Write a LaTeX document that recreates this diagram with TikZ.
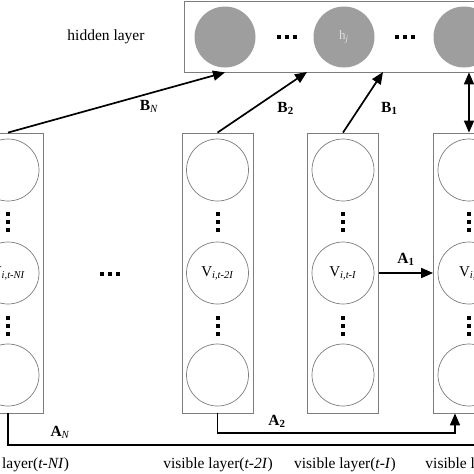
\documentclass[tikz,border=0pt]{standalone}
\usepackage{fontspec}
\setmainfont{Liberation Serif}
\usetikzlibrary{positioning,calc,arrows.meta}
\definecolor{boxgray}{RGB}{125,125,125}
\definecolor{unitgray}{RGB}{158,158,158}
\definecolor{hlight}{RGB}{225,225,225}

\tikzset{
  layerbox/.style={draw=boxgray, line width=0.8pt, minimum width=71pt, minimum height=280pt},
  unit/.style={circle, draw=boxgray, line width=0.7pt, minimum size=62pt, inner sep=0pt, font=\fontsize{15}{17}\selectfont},
  hunit/.style={circle, fill=unitgray, minimum size=61pt, inner sep=0pt, text=hlight, font=\fontsize{13}{15}\selectfont},
  arr/.style={-{Triangle[length=12pt,width=10pt]}, line width=1.7pt},
  dblarr/.style={{Triangle[length=12pt,width=10pt]}-{Triangle[length=12pt,width=10pt]}, line width=1.7pt},
  vdots/.pic={\foreach \d in {-8,0,8} \fill (-2,\d-2) rectangle (2,\d+2);},
  hdots/.pic={\foreach \d in {-8,0,8} \fill (\d-2,-2) rectangle (\d+2,2);}
}

\begin{document}
\begin{tikzpicture}[x=1pt, y=-1pt, font=\fontsize{15.5}{18}\selectfont]
    \useasboundingbox (0,0) rectangle (474,474);

    % Hidden layer
    \node[draw=boxgray, line width=0.8pt, minimum width=320pt, minimum height=71pt] (hidden) at (344,36.5) {};
    \node[hunit] (h1) at (225,37) {};
    \node[hunit] (hj) at (344,37) {h\textsubscript{\textit{j}}};
    \node[hunit] (hn) at (464,37) {};
    \pic at (287,37) {hdots};
    \pic at (405,37) {hdots};
    \node (hlabel) at (106,37) {hidden layer};

    % Visible layers
    \foreach \n/\x in {1/8,2/217.5,3/343,4/469} {
        \node[layerbox] (vis\n) at (\x,273) {};
        \node[unit] (top\n) at (\x,170) {};
        \node[unit] (bot\n) at (\x,375) {};
        \pic at (\x,222) {vdots};
        \pic at (\x,326) {vdots};
    }
    \node[unit] (mid1) at (8,273) {V\textsubscript{\textit{i,t-NI}}};
    \node[unit] (mid2) at (217.5,273) {V\textsubscript{\textit{i,t-2I}}};
    \node[unit] (mid3) at (343,273) {V\textsubscript{\textit{i,t-I}}};
    \node[unit] (mid4) at (469,273) {V\textsubscript{\textit{i,t}}};
    \pic at (110,274) {hdots};

    \node (lab1) at (13,465) {visible layer(\textit{t-NI})};
    \node (lab2) at (218,465) {visible layer(\textit{t-2I})};
    \node (lab3) at (345,465) {visible layer(\textit{t-I})};
    \node (lab4) at (471,465) {visible layer(\textit{t})};

    % Connections to hidden layer
    \coordinate (b2end) at (307,72);
    \coordinate (b1end) at (383,72);
    \draw[arr] (vis1.north) -- (h1 |- hidden.south) node[pos=0.65, below=3pt] {\textbf{B}\textsubscript{\textit{N}}};
    \draw[arr] (vis2.north) -- (b2end) node[pos=0.4, right=20pt] {\textbf{B\textsubscript{2}}};
    \draw[arr] (vis3.north) -- (b1end) node[pos=0.4, right=18pt] {\textbf{B\textsubscript{1}}};
    \draw[dblarr] (vis4.north) -- (vis4.north |- hidden.south);

    % Autoregressive links
    \draw[arr] (vis3.east |- mid3) -- (vis4.west |- mid4) node[midway, above=3pt] {\textbf{A\textsubscript{1}}};
    \coordinate (a2turn) at (455,433);
    \draw[arr] (vis2.south) |- (a2turn) node[pos=0.625, above=1pt] {\textbf{A\textsubscript{2}}} -- (a2turn |- vis4.south);
    \coordinate (anturn) at (483,445);
    \draw[arr] (vis1.south) |- (anturn) node[pos=0.555, above=2pt] {\textbf{A}\textsubscript{\textit{N}}} -- (anturn |- vis4.south);
\end{tikzpicture}
\end{document}
